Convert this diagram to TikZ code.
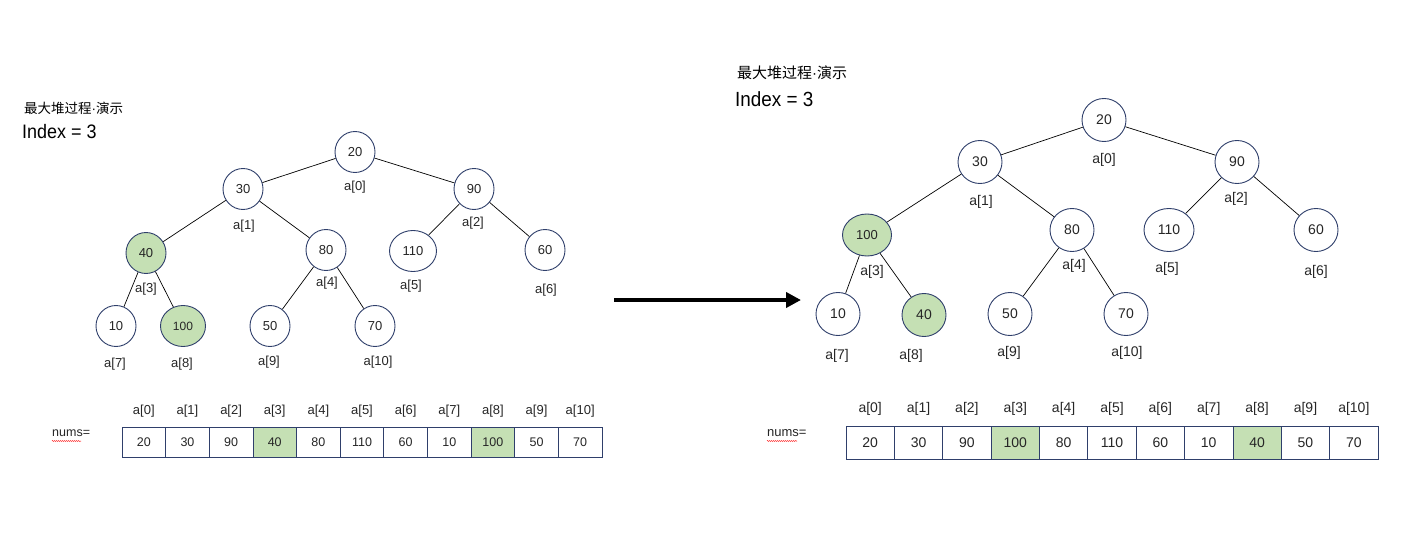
\documentclass[tikz,border=0pt]{standalone}
\usepackage{fontspec}
\setmainfont{Liberation Sans}
\newfontfamily\cjk{Noto Sans CJK SC}
\newfontfamily\latin{Liberation Sans}
\newfontfamily\narrowsans[FakeStretch=0.92]{Liberation Sans}
\usetikzlibrary{arrows.meta,shapes.geometric,decorations.pathmorphing}
\definecolor{nodeline}{HTML}{2F3F6B}
\definecolor{hl}{HTML}{C5E0B4}
\definecolor{txt}{HTML}{262626}
\begin{document}
\begin{tikzpicture}[x=1pt,y=-1pt,
  lnode/.style={ellipse, draw=nodeline, line width=0.9pt, fill=white, minimum width=40pt, minimum height=41pt, inner sep=0pt, text=txt, font=\fontsize{13}{13}\selectfont},
  rnode/.style={ellipse, draw=nodeline, line width=0.9pt, fill=white, minimum width=44pt, minimum height=43pt, inner sep=0pt, text=txt, font=\fontsize{14}{14}\selectfont},
  green/.style={fill=hl},
  edge/.style={draw=black, line width=0.7pt},
  llbl/.style={text=txt, inner sep=0pt, font=\fontsize{13}{13}\selectfont},
  rlbl/.style={text=txt, inner sep=0pt, font=\fontsize{14}{14}\selectfont},
  cell/.style={draw=nodeline, line width=0.8pt, inner sep=0pt, text=txt},
  title/.style={anchor=west, inner sep=0pt, text=black},
  squig/.style={draw=red, line width=0.5pt, decorate, decoration={snake, amplitude=0.5pt, segment length=2pt}}
]
\useasboundingbox (0,0) rectangle (1415,548);

% ---------------- Left side ----------------
\node[title, font=\cjk\fontsize{13.5}{13.5}\selectfont] (lt1) at (24,108) {最大堆过程{\latin ·}演示};
\node[title, font=\narrowsans\fontsize{19.5}{19.5}\selectfont] (lt2) at (22,132) {Index = 3};

\node[lnode] (l0) at (355,152) {20};
\node[lnode] (l1) at (243,189) {30};
\node[lnode] (l2) at (474,189) {90};
\node[lnode, green] (l3) at (146,253) {40};
\node[lnode] (l4) at (326,250) {80};
\node[lnode, minimum width=47pt] (l5) at (413,251) {110};
\node[lnode] (l6) at (545,250) {60};
\node[lnode] (l7) at (116,326) {10};
\node[lnode, green, minimum width=45pt, font=\fontsize{12}{12}\selectfont] (l8) at (183,326) {100};
\node[lnode] (l9) at (270,326) {50};
\node[lnode] (l10) at (375,326) {70};

\draw[edge] (l0) -- (l1);
\draw[edge] (l0) -- (l2);
\draw[edge] (l1) -- (l3);
\draw[edge] (l1) -- (l4);
\draw[edge] (l2) -- (l5);
\draw[edge] (l2) -- (l6);
\draw[edge] (l3) -- (l7);
\draw[edge] (l3) -- (l8);
\draw[edge] (l4) -- (l9);
\draw[edge] (l4) -- (l10);

\node[llbl] (la0) at (355,187) {a[0]};
\node[llbl] (la1) at (244,226) {a[1]};
\node[llbl] (la2) at (473,223) {a[2]};
\node[llbl] (la3) at (146,289) {a[3]};
\node[llbl] (la4) at (327,283) {a[4]};
\node[llbl] (la5) at (411,286) {a[5]};
\node[llbl] (la6) at (546,290) {a[6]};
\node[llbl] (la7) at (115,364) {a[7]};
\node[llbl] (la8) at (182,364) {a[8]};
\node[llbl] (la9) at (269,362) {a[9]};
\node[llbl] (la10) at (378,362) {a[10]};

\node[title, font=\fontsize{12.5}{12.5}\selectfont, text=txt] (lnums) at (52,433) {nums=};
\coordinate (lsq1) at (52,441);
\coordinate (lsq2) at (81,441);
\draw[squig] (lsq1) -- (lsq2);

\foreach \v [count=\i from 0] in {20,30,90,40,80,110,60,10,100,50,70} {
  \pgfmathsetmacro\cx{122+43.636*(\i+0.5)}
  \ifnum\i=3 \def\cf{hl}\else\ifnum\i=8 \def\cf{hl}\else\def\cf{white}\fi\fi
  \node[cell, fill=\cf, minimum width=43.636pt, minimum height=30pt, font=\fontsize{12.5}{12.5}\selectfont] (lc\i) at (\cx,442) {\v};
  \node[llbl] (lh\i) at (\cx,411) {a[\i]};
}

% ---------------- Arrow ----------------
\coordinate (as) at (614,300);
\coordinate (ae) at (801,300);
\draw[line width=4.5pt, -{Triangle[length=15pt,width=15pt]}] (as) -- (ae);

% ---------------- Right side ----------------
\node[title, font=\cjk\fontsize{15}{15}\selectfont] (rt1) at (737,73) {最大堆过程{\latin ·}演示};
\node[title, font=\narrowsans\fontsize{20.5}{20.5}\selectfont] (rt2) at (735,99) {Index = 3};

\node[rnode] (r0) at (1104,120) {20};
\node[rnode] (r1) at (980,162) {30};
\node[rnode] (r2) at (1237,162) {90};
\node[rnode, green, minimum width=49pt, minimum height=42pt, font=\fontsize{13}{13}\selectfont] (r3) at (867,235) {100};
\node[rnode] (r4) at (1072,230) {80};
\node[rnode, minimum width=50pt] (r5) at (1169,230) {110};
\node[rnode] (r6) at (1316,230) {60};
\node[rnode] (r7) at (838,314) {10};
\node[rnode, green] (r8) at (924,315) {40};
\node[rnode] (r9) at (1010,314) {50};
\node[rnode] (r10) at (1126,314) {70};

\draw[edge] (r0) -- (r1);
\draw[edge] (r0) -- (r2);
\draw[edge] (r1) -- (r3);
\draw[edge] (r1) -- (r4);
\draw[edge] (r2) -- (r5);
\draw[edge] (r2) -- (r6);
\draw[edge] (r3) -- (r7);
\draw[edge] (r3) -- (r8);
\draw[edge] (r4) -- (r9);
\draw[edge] (r4) -- (r10);

\node[rlbl] (ra0) at (1104,160) {a[0]};
\node[rlbl] (ra1) at (981,202) {a[1]};
\node[rlbl] (ra2) at (1236,199) {a[2]};
\node[rlbl] (ra3) at (872,272) {a[3]};
\node[rlbl] (ra4) at (1074,266) {a[4]};
\node[rlbl] (ra5) at (1167,269) {a[5]};
\node[rlbl] (ra6) at (1316,272) {a[6]};
\node[rlbl] (ra7) at (837,356) {a[7]};
\node[rlbl] (ra8) at (911,356) {a[8]};
\node[rlbl] (ra9) at (1009,353) {a[9]};
\node[rlbl] (ra10) at (1127,353) {a[10]};

\node[title, font=\fontsize{13}{13}\selectfont, text=txt] (rnums) at (767,433) {nums=};
\coordinate (rsq1) at (767,441);
\coordinate (rsq2) at (797,441);
\draw[squig] (rsq1) -- (rsq2);

\foreach \v [count=\i from 0] in {20,30,90,100,80,110,60,10,40,50,70} {
  \pgfmathsetmacro\cx{846+48.364*(\i+0.5)}
  \ifnum\i=3 \def\cf{hl}\else\ifnum\i=8 \def\cf{hl}\else\def\cf{white}\fi\fi
  \node[cell, fill=\cf, minimum width=48.364pt, minimum height=33pt, font=\fontsize{14}{14}\selectfont] (rc\i) at (\cx,442.5) {\v};
  \node[rlbl] (rh\i) at (\cx,409) {a[\i]};
}
\end{tikzpicture}
\end{document}
